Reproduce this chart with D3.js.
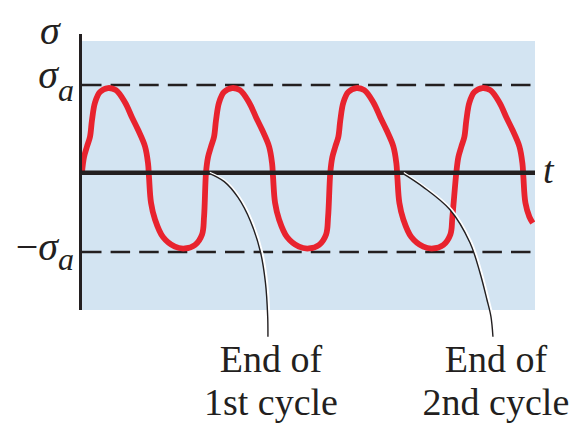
<!DOCTYPE html>
<html>
<head>
<meta charset="utf-8">
<title>Stress cycles</title>
<script src="https://cdn.jsdelivr.net/npm/d3@7"></script>
<style>
  text { font-family: "Liberation Serif", serif; }
</style>
</head>
<body style="margin:0">
<div id="chart"></div>
<script>
// stress history (t in cycles, stress in units of sigma_a)
var timeValues = [
  0, 0.016, 0.040, 0.064, 0.080, 0.104, 0.144, 0.208, 0.272, 0.345, 0.401, 0.449, 0.505, 0.529, 0.537, 0.553, 0.585, 0.649, 0.745, 0.825, 0.905, 0.962, 0.978,
  0.994, 1.010, 1.034, 1.058, 1.074, 1.098, 1.138, 1.202, 1.266, 1.339, 1.395, 1.443, 1.499, 1.523, 1.531, 1.547, 1.579, 1.643, 1.739, 1.819, 1.899, 1.956, 1.972,
  1.990, 2.006, 2.030, 2.054, 2.070, 2.094, 2.134, 2.198, 2.262, 2.335, 2.391, 2.439, 2.495, 2.519, 2.527, 2.543, 2.575, 2.639, 2.735, 2.815, 2.895, 2.952, 2.968,
  3.000, 3.016, 3.040, 3.064, 3.080, 3.104, 3.144, 3.208, 3.272, 3.345, 3.401, 3.449, 3.505, 3.529, 3.537, 3.553, 3.585, 3.612
];
var stressValues = [
  0.01, 0.18, 0.30, 0.41, 0.60, 0.80, 0.92, 0.965, 0.94, 0.80, 0.63, 0.49, 0.30, 0.11, -0.05, -0.34, -0.53, -0.73, -0.84, -0.86, -0.82, -0.70, -0.50,
  0.01, 0.18, 0.30, 0.41, 0.60, 0.80, 0.92, 0.965, 0.94, 0.80, 0.63, 0.49, 0.30, 0.11, -0.05, -0.34, -0.53, -0.73, -0.84, -0.86, -0.82, -0.70, -0.50,
  0.01, 0.18, 0.30, 0.41, 0.60, 0.80, 0.92, 0.965, 0.94, 0.80, 0.63, 0.49, 0.30, 0.11, -0.05, -0.34, -0.53, -0.73, -0.84, -0.86, -0.82, -0.70, -0.50,
  0.01, 0.18, 0.30, 0.41, 0.60, 0.80, 0.92, 0.965, 0.94, 0.80, 0.63, 0.49, 0.30, 0.11, -0.05, -0.34, -0.50, -0.57
];

// dashed amplitude levels and their labels
var levelValues = [1, -0.9];
var levelLabels = [["", "σ", "a"], ["−", "σ", "a"]];

// leader lines for the annotations
var leaderOneT = [1.010, 1.140, 1.250, 1.350, 1.430, 1.470, 1.488, 1.490];
var leaderOneS = [0, -0.10, -0.28, -0.55, -0.90, -1.25, -1.636, -1.864];
var leaderTwoT = [2.564, 2.732, 2.949, 3.109, 3.189, 3.245, 3.277, 3.293];
var leaderTwoS = [0, -0.159, -0.42, -0.795, -1.136, -1.443, -1.636, -1.864];
var annotationLines = [["End of", "1st cycle"], ["End of", "2nd cycle"]];

var fontName = "Liberation Serif";
var ink = "#231f20";
var width = 587, height = 429;
var plot = { left: 82, right: 535, top: 41, bottom: 310 };

var svg = d3.select("#chart").append("svg")
  .attr("width", width)
  .attr("height", height);

var x = d3.scaleLinear().domain([0, 3.63]).range([plot.left, plot.right]);
var y = d3.scaleLinear().domain([-1.56, 1.5]).range([plot.bottom, plot.top]);

// background panel
svg.append("rect")
  .attr("x", x(0))
  .attr("y", y(1.5))
  .attr("width", x(3.63) - x(0))
  .attr("height", y(-1.56) - y(1.5))
  .attr("fill", "#d3e4f2");

// dashed +/- sigma_a lines
svg.selectAll(".level")
  .data(levelValues)
  .enter()
  .append("line")
  .attr("class", "level")
  .attr("x1", x(0))
  .attr("x2", x(3.63))
  .attr("y1", function (d) { return y(d); })
  .attr("y2", function (d) { return y(d); })
  .attr("stroke", ink)
  .attr("stroke-width", 2.4)
  .attr("stroke-dasharray", "19.5,9.1");

// stress curve
var pts = timeValues.map(function (t, i) { return [t, stressValues[i]]; });
var line = d3.line()
  .x(function (d) { return x(d[0]); })
  .y(function (d) { return y(d[1]); })
  .curve(d3.curveCatmullRom.alpha(0.5));

svg.append("path")
  .datum(pts)
  .attr("d", line)
  .attr("fill", "none")
  .attr("stroke", "#e8232e")
  .attr("stroke-width", 5.8)
  .attr("stroke-linejoin", "round");

// time axis (zero line)
svg.append("line")
  .attr("x1", x(0))
  .attr("x2", x(3.63))
  .attr("y1", y(0))
  .attr("y2", y(0))
  .attr("stroke", ink)
  .attr("stroke-width", 4.5);

// stress axis
svg.append("line")
  .attr("x1", x(0) - 1.5)
  .attr("x2", x(0) - 1.5)
  .attr("y1", y(1.58))
  .attr("y2", y(-1.56))
  .attr("stroke", ink)
  .attr("stroke-width", 3);

// leaders with white halo
var leaders = [
  leaderOneT.map(function (t, i) { return [t, leaderOneS[i]]; }),
  leaderTwoT.map(function (t, i) { return [t, leaderTwoS[i]]; })
];
leaders.forEach(function (l) {
  svg.append("path")
    .datum(l)
    .attr("d", line)
    .attr("transform", "translate(1.6,0)")
    .attr("fill", "none")
    .attr("stroke", "#fff")
    .attr("stroke-width", 2.2);
  svg.append("path")
    .datum(l)
    .attr("d", line)
    .attr("fill", "none")
    .attr("stroke", ink)
    .attr("stroke-width", 1.4);
});

// annotation text under each leader
annotationLines.forEach(function (lines, i) {
  var end = leaders[i][leaders[i].length - 1];
  lines.forEach(function (s, j) {
    svg.append("text")
      .attr("x", x(end[0]) + 3)
      .attr("y", 372 + j * 43)
      .attr("text-anchor", "middle")
      .attr("font-family", fontName)
      .style("font-family", fontName)
      .style("font-size", "38px")
      .style("fill", ink)
      .text(s);
  });
});

// axis labels
svg.append("text")
  .attr("x", 40)
  .attr("y", 44)
  .attr("font-family", fontName)
  .style("font-family", fontName)
  .style("font-size", "40px")
  .style("font-style", "italic")
  .style("fill", ink)
  .text("σ");

svg.append("text")
  .attr("x", 543)
  .attr("y", 183)
  .attr("font-family", fontName)
  .style("font-family", fontName)
  .style("font-size", "38px")
  .style("font-style", "italic")
  .style("fill", ink)
  .text("t");

levelValues.forEach(function (v, i) {
  var lab = levelLabels[i];
  var txt = svg.append("text")
    .attr("text-anchor", "end")
    .attr("x", 74)
    .attr("y", y(v) + (v > 0 ? 3 : 8))
    .attr("font-family", fontName)
    .style("font-family", fontName)
    .style("font-size", "40px")
    .style("fill", ink);
  if (lab[0]) txt.append("tspan").text(lab[0]);
  txt.append("tspan").style("font-style", "italic").text(lab[1]);
  txt.append("tspan").style("font-style", "italic").style("font-size", "32px")
    .attr("dy", v > 0 ? 13 : 10).text(lab[2]);
});
</script>
</body>
</html>
